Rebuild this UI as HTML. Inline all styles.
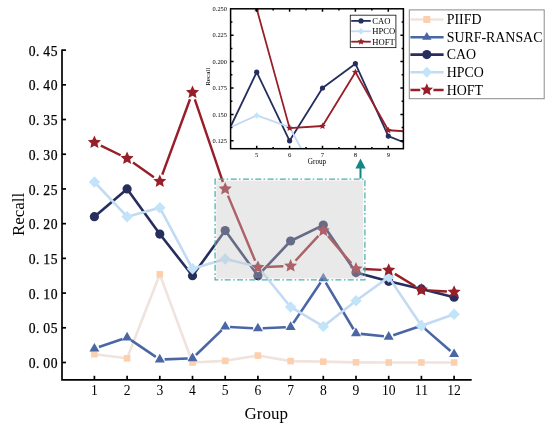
<!DOCTYPE html><html><head><meta charset="utf-8"><style>html,body{margin:0;padding:0;background:#fff;}svg{display:block}.tm{font-family:"Liberation Serif","Times New Roman",serif;}.ss{font-family:"Liberation Serif","Noto Serif CJK SC",serif;}</style></head><body>
<svg width="550" height="429" viewBox="0 0 550 429">
<rect width="550" height="429" fill="#fff"/>
<polyline fill="none" stroke="#f0e3de" stroke-width="2.6" stroke-linejoin="round" points="94.4,354.17 127.1,358.33 159.8,274.34 192.5,362.5 225.2,360.83 257.9,355.56 290.6,361.11 323.3,361.67 356,362.36 388.7,362.5 421.4,362.5 454.1,362.5" />
<g fill="#fcd0ae"><rect x="91.1" y="350.87" width="6.6" height="6.6"/><rect x="123.8" y="355.03" width="6.6" height="6.6"/><rect x="156.5" y="271.04" width="6.6" height="6.6"/><rect x="189.2" y="359.2" width="6.6" height="6.6"/><rect x="221.9" y="357.53" width="6.6" height="6.6"/><rect x="254.6" y="352.26" width="6.6" height="6.6"/><rect x="287.3" y="357.81" width="6.6" height="6.6"/><rect x="320" y="358.37" width="6.6" height="6.6"/><rect x="352.7" y="359.06" width="6.6" height="6.6"/><rect x="385.4" y="359.2" width="6.6" height="6.6"/><rect x="418.1" y="359.2" width="6.6" height="6.6"/><rect x="450.8" y="359.2" width="6.6" height="6.6"/></g>
<path fill="none" stroke="#4b66a5" stroke-width="2.6" stroke-linejoin="round" d="M98.94,347.07 L122.56,339.05 M131.08,340.19 L155.82,356.84 M164.6,359.34 L187.7,358.51 M195.95,355 L221.75,330.08 M229.99,327 L253.11,328.23 M262.7,328.28 L285.8,327.3 M293.28,323.11 L320.62,282.48 M325.76,282.62 L353.54,329.22 M360.77,333.85 L383.93,336.31 M393.24,335.27 L416.86,327.25 M425.02,328.86 L450.48,351.02"/>
<g fill="#4b66a5"><polygon points="94.4,342.88 99.4,351.48 89.4,351.48"/><polygon points="127.1,331.78 132.1,340.38 122.1,340.38"/><polygon points="159.8,353.78 164.8,362.38 154.8,362.38"/><polygon points="192.5,352.6 197.5,361.2 187.5,361.2"/><polygon points="225.2,321.02 230.2,329.62 220.2,329.62"/><polygon points="257.9,322.75 262.9,331.35 252.9,331.35"/><polygon points="290.6,321.36 295.6,329.96 285.6,329.96"/><polygon points="323.3,272.77 328.3,281.37 318.3,281.37"/><polygon points="356,327.61 361,336.21 351,336.21"/><polygon points="388.7,331.08 393.7,339.68 383.7,339.68"/><polygon points="421.4,319.97 426.4,328.57 416.4,328.57"/><polygon points="454.1,348.44 459.1,357.04 449.1,357.04"/></g>
<polyline fill="none" stroke="#262e5e" stroke-width="2.6" stroke-linejoin="round" points="94.4,216.72 127.1,188.95 159.8,234.07 192.5,275.73 225.2,230.6 257.9,275.73 290.6,241.01 323.3,225.05 356,272.6 388.7,281.28 421.4,288.91 454.1,297.25" />
<g fill="#262e5e"><circle cx="94.4" cy="216.72" r="4.6"/><circle cx="127.1" cy="188.95" r="4.6"/><circle cx="159.8" cy="234.07" r="4.6"/><circle cx="192.5" cy="275.73" r="4.6"/><circle cx="225.2" cy="230.6" r="4.6"/><circle cx="257.9" cy="275.73" r="4.6"/><circle cx="290.6" cy="241.01" r="4.6"/><circle cx="323.3" cy="225.05" r="4.6"/><circle cx="356" cy="272.6" r="4.6"/><circle cx="388.7" cy="281.28" r="4.6"/><circle cx="421.4" cy="288.91" r="4.6"/><circle cx="454.1" cy="297.25" r="4.6"/></g>
<polyline fill="none" stroke="#c3daf3" stroke-width="2.6" stroke-linejoin="round" points="94.4,182.01 127.1,216.72 159.8,207.69 192.5,268.78 225.2,259.06 257.9,266.7 290.6,306.96 323.3,326.4 356,300.72 388.7,277.11 421.4,325.71 454.1,314.25" />
<g fill="#c2e4fb"><polygon points="94.4,176.31 100.1,182.01 94.4,187.71 88.7,182.01"/><polygon points="127.1,211.02 132.8,216.72 127.1,222.42 121.4,216.72"/><polygon points="159.8,201.99 165.5,207.69 159.8,213.39 154.1,207.69"/><polygon points="192.5,263.08 198.2,268.78 192.5,274.48 186.8,268.78"/><polygon points="225.2,253.36 230.9,259.06 225.2,264.76 219.5,259.06"/><polygon points="257.9,261 263.6,266.7 257.9,272.4 252.2,266.7"/><polygon points="290.6,301.26 296.3,306.96 290.6,312.66 284.9,306.96"/><polygon points="323.3,320.7 329,326.4 323.3,332.1 317.6,326.4"/><polygon points="356,295.02 361.7,300.72 356,306.42 350.3,300.72"/><polygon points="388.7,271.41 394.4,277.11 388.7,282.81 383,277.11"/><polygon points="421.4,320.01 427.1,325.71 421.4,331.41 415.7,325.71"/><polygon points="454.1,308.55 459.8,314.25 454.1,319.95 448.4,314.25"/></g>
<path fill="none" stroke="#981f28" stroke-width="2.45" stroke-linejoin="round" d="M100.87,145.6 L120.63,155.25 M133,162.54 L153.9,177.18 M162.29,174.56 L190.01,99.21 M194.81,99.28 L222.89,182.13 M227.97,195.6 L255.13,260.75 M265.09,267.09 L283.41,266.31 M295.49,260.72 L318.41,235.89 M327.98,236.07 L351.32,263.31 M363.19,269.09 L381.51,269.87 M394.86,273.9 L415.24,286.23 M428.59,290.41 L446.91,291.58"/>
<g fill="#981f28"><polygon points="94.4,135.54 96.31,139.81 100.96,140.31 97.48,143.44 98.46,148.02 94.4,145.68 90.34,148.02 91.32,143.44 87.84,140.31 92.49,139.81"/><polygon points="127.1,151.51 129.01,155.78 133.66,156.27 130.18,159.41 131.16,163.99 127.1,161.65 123.04,163.99 124.02,159.41 120.54,156.27 125.19,155.78"/><polygon points="159.8,174.41 161.71,178.69 166.36,179.18 162.88,182.32 163.86,186.9 159.8,184.56 155.74,186.9 156.72,182.32 153.24,179.18 157.89,178.69"/><polygon points="192.5,85.56 194.41,89.83 199.06,90.32 195.58,93.46 196.56,98.04 192.5,95.7 188.44,98.04 189.42,93.46 185.94,90.32 190.59,89.83"/><polygon points="225.2,182.05 227.11,186.33 231.76,186.82 228.28,189.95 229.26,194.53 225.2,192.19 221.14,194.53 222.12,189.95 218.64,186.82 223.29,186.33"/><polygon points="257.9,260.49 259.81,264.77 264.46,265.26 260.98,268.4 261.96,272.98 257.9,270.64 253.84,272.98 254.82,268.4 251.34,265.26 255.99,264.77"/><polygon points="290.6,259.11 292.51,263.38 297.16,263.87 293.68,267.01 294.66,271.59 290.6,269.25 286.54,271.59 287.52,267.01 284.04,263.87 288.69,263.38"/><polygon points="323.3,223.7 325.21,227.98 329.86,228.47 326.38,231.6 327.36,236.18 323.3,233.84 319.24,236.18 320.22,231.6 316.74,228.47 321.39,227.98"/><polygon points="356,261.88 357.91,266.16 362.56,266.65 359.08,269.79 360.06,274.37 356,272.03 351.94,274.37 352.92,269.79 349.44,266.65 354.09,266.16"/><polygon points="388.7,263.27 390.61,267.55 395.26,268.04 391.78,271.17 392.76,275.75 388.7,273.41 384.64,275.75 385.62,271.17 382.14,268.04 386.79,267.55"/><polygon points="421.4,283.06 423.31,287.33 427.96,287.82 424.48,290.96 425.46,295.54 421.4,293.2 417.34,295.54 418.32,290.96 414.84,287.82 419.49,287.33"/><polygon points="454.1,285.14 456.01,289.42 460.66,289.91 457.18,293.04 458.16,297.62 454.1,295.28 450.04,297.62 451.02,293.04 447.54,289.91 452.19,289.42"/></g>
<rect x="216.3" y="180.5" width="147" height="98" fill="#c8c8c8" fill-opacity="0.4" stroke="none"/>
<rect x="215.1" y="179.2" width="149.8" height="100.6" fill="none" stroke="#4aafab" stroke-width="1.25" stroke-dasharray="6 2.2 1.6 2.5" stroke-dashoffset="9"/>
<line x1="360.5" y1="178.5" x2="360.5" y2="167" stroke="#168585" stroke-width="2"/>
<polygon points="360.5,158.4 365.7,168.5 355.4,168.5" fill="#168585"/>
<g stroke="#000" stroke-width="1.7" fill="none">
<path d="M62,49.4 V379.8 H471.7"/>
<path d="M62,362.5 H66"/>
<path d="M62,327.79 H66"/>
<path d="M62,293.08 H66"/>
<path d="M62,258.37 H66"/>
<path d="M62,223.66 H66"/>
<path d="M62,188.95 H66"/>
<path d="M62,154.24 H66"/>
<path d="M62,119.53 H66"/>
<path d="M62,84.82 H66"/>
<path d="M62,50.11 H66"/>
<path d="M94.4,379.8 V375.8"/>
<path d="M127.1,379.8 V375.8"/>
<path d="M159.8,379.8 V375.8"/>
<path d="M192.5,379.8 V375.8"/>
<path d="M225.2,379.8 V375.8"/>
<path d="M257.9,379.8 V375.8"/>
<path d="M290.6,379.8 V375.8"/>
<path d="M323.3,379.8 V375.8"/>
<path d="M356,379.8 V375.8"/>
<path d="M388.7,379.8 V375.8"/>
<path d="M421.4,379.8 V375.8"/>
<path d="M454.1,379.8 V375.8"/>
</g>
<g class="ss" font-size="13.6" fill="#000" stroke="#000" stroke-width="0.25">
<text x="32.15" y="368.1" text-anchor="middle">0</text>
<text x="37.65" y="368.1" text-anchor="middle">.</text>
<text x="46.75" y="368.1" text-anchor="middle">0</text>
<text x="54.05" y="368.1" text-anchor="middle">0</text>
<text x="32.15" y="333.39" text-anchor="middle">0</text>
<text x="37.65" y="333.39" text-anchor="middle">.</text>
<text x="46.75" y="333.39" text-anchor="middle">0</text>
<text x="54.05" y="333.39" text-anchor="middle">5</text>
<text x="32.15" y="298.68" text-anchor="middle">0</text>
<text x="37.65" y="298.68" text-anchor="middle">.</text>
<text x="46.75" y="298.68" text-anchor="middle">1</text>
<text x="54.05" y="298.68" text-anchor="middle">0</text>
<text x="32.15" y="263.97" text-anchor="middle">0</text>
<text x="37.65" y="263.97" text-anchor="middle">.</text>
<text x="46.75" y="263.97" text-anchor="middle">1</text>
<text x="54.05" y="263.97" text-anchor="middle">5</text>
<text x="32.15" y="229.26" text-anchor="middle">0</text>
<text x="37.65" y="229.26" text-anchor="middle">.</text>
<text x="46.75" y="229.26" text-anchor="middle">2</text>
<text x="54.05" y="229.26" text-anchor="middle">0</text>
<text x="32.15" y="194.55" text-anchor="middle">0</text>
<text x="37.65" y="194.55" text-anchor="middle">.</text>
<text x="46.75" y="194.55" text-anchor="middle">2</text>
<text x="54.05" y="194.55" text-anchor="middle">5</text>
<text x="32.15" y="159.84" text-anchor="middle">0</text>
<text x="37.65" y="159.84" text-anchor="middle">.</text>
<text x="46.75" y="159.84" text-anchor="middle">3</text>
<text x="54.05" y="159.84" text-anchor="middle">0</text>
<text x="32.15" y="125.13" text-anchor="middle">0</text>
<text x="37.65" y="125.13" text-anchor="middle">.</text>
<text x="46.75" y="125.13" text-anchor="middle">3</text>
<text x="54.05" y="125.13" text-anchor="middle">5</text>
<text x="32.15" y="90.42" text-anchor="middle">0</text>
<text x="37.65" y="90.42" text-anchor="middle">.</text>
<text x="46.75" y="90.42" text-anchor="middle">4</text>
<text x="54.05" y="90.42" text-anchor="middle">0</text>
<text x="32.15" y="55.71" text-anchor="middle">0</text>
<text x="37.65" y="55.71" text-anchor="middle">.</text>
<text x="46.75" y="55.71" text-anchor="middle">4</text>
<text x="54.05" y="55.71" text-anchor="middle">5</text>
</g>
<g class="tm" font-size="13.6" fill="#000" text-anchor="middle">
<text x="94.4" y="395.4">1</text>
<text x="127.1" y="395.4">2</text>
<text x="159.8" y="395.4">3</text>
<text x="192.5" y="395.4">4</text>
<text x="225.2" y="395.4">5</text>
<text x="257.9" y="395.4">6</text>
<text x="290.6" y="395.4">7</text>
<text x="323.3" y="395.4">8</text>
<text x="356" y="395.4">9</text>
<text x="388.7" y="395.4">10</text>
<text x="421.4" y="395.4">11</text>
<text x="454.1" y="395.4">12</text>
</g>
<text class="tm" x="266.2" y="418.6" font-size="17" text-anchor="middle">Group</text>
<text class="tm" transform="translate(23.5,214.4) rotate(-90)" font-size="17" text-anchor="middle">Recall</text>
<rect x="409.3" y="9.9" width="134.9" height="88.8" fill="#fff" stroke="#8a8a8a" stroke-width="1"/>
<polyline fill="none" stroke="#f0e3de" stroke-width="2.6" stroke-linejoin="round" points="410.4,19.5 443.6,19.5" />
<g fill="#fcd0ae"><rect x="423.3" y="16" width="7" height="7"/></g>
<polyline fill="none" stroke="#4b66a5" stroke-width="2.6" stroke-linejoin="round" points="410.4,37.2 443.6,37.2" />
<g fill="#4b66a5"><polygon points="426.8,31.93 431.5,39.83 422.1,39.83"/></g>
<polyline fill="none" stroke="#262e5e" stroke-width="2.6" stroke-linejoin="round" points="410.4,54.6 443.6,54.6" />
<g fill="#262e5e"><circle cx="426.8" cy="54.6" r="4.6"/></g>
<polyline fill="none" stroke="#c3daf3" stroke-width="2.6" stroke-linejoin="round" points="410.4,72.2 443.6,72.2" />
<g fill="#c2e4fb"><polygon points="426.8,66.6 432,72.2 426.8,77.8 421.6,72.2"/></g>
<path fill="none" stroke="#981f28" stroke-width="2.45" d="M410.4,89.9 H420.2 M433.4,89.9 H443.6"/>
<g fill="#981f28"><polygon points="426.8,83.3 428.62,87.39 433.08,87.86 429.75,90.86 430.68,95.24 426.8,93 422.92,95.24 423.85,90.86 420.52,87.86 424.98,87.39"/></g>
<g class="tm" font-size="13.9" fill="#000">
<text x="446.7" y="24.1">PIIFD</text>
<text x="446.7" y="41.8">SURF-RANSAC</text>
<text x="446.7" y="59.2">CAO</text>
<text x="446.7" y="76.8">HPCO</text>
<text x="446.7" y="94.5">HOFT</text>
</g>
<rect x="230.6" y="8.8" width="172.8" height="139.9" fill="#fff"/>
<defs><clipPath id="ic"><rect x="230.6" y="8.8" width="172.8" height="139.9"/></clipPath></defs>
<g clip-path="url(#ic)">
<polyline fill="none" stroke="#262e5e" stroke-width="1.8" stroke-linejoin="round" points="125.1,51.04 158,8.8 190.9,77.44 223.8,140.8 256.7,72.16 289.6,140.8 322.5,88 355.4,63.71 388.3,136.05 421.2,149.25 454.1,160.86 487,173.54" />
<g fill="#262e5e"><circle cx="125.1" cy="51.04" r="2.6"/><circle cx="158" cy="8.8" r="2.6"/><circle cx="190.9" cy="77.44" r="2.6"/><circle cx="223.8" cy="140.8" r="2.6"/><circle cx="256.7" cy="72.16" r="2.6"/><circle cx="289.6" cy="140.8" r="2.6"/><circle cx="322.5" cy="88" r="2.6"/><circle cx="355.4" cy="63.71" r="2.6"/><circle cx="388.3" cy="136.05" r="2.6"/><circle cx="421.2" cy="149.25" r="2.6"/><circle cx="454.1" cy="160.86" r="2.6"/><circle cx="487" cy="173.54" r="2.6"/></g>
<polyline fill="none" stroke="#c3daf3" stroke-width="1.8" stroke-linejoin="round" points="125.1,-1.76 158,51.04 190.9,37.31 223.8,130.24 256.7,115.46 289.6,127.07 322.5,188.32 355.4,217.89 388.3,178.82 421.2,142.91 454.1,216.83 487,199.41" />
<g fill="#c2e4fb"><polygon points="125.1,-5 128.1,-1.76 125.1,1.48 122.1,-1.76"/><polygon points="158,47.8 161,51.04 158,54.28 155,51.04"/><polygon points="190.9,34.07 193.9,37.31 190.9,40.55 187.9,37.31"/><polygon points="223.8,127 226.8,130.24 223.8,133.48 220.8,130.24"/><polygon points="256.7,112.22 259.7,115.46 256.7,118.7 253.7,115.46"/><polygon points="289.6,123.83 292.6,127.07 289.6,130.31 286.6,127.07"/><polygon points="322.5,185.08 325.5,188.32 322.5,191.56 319.5,188.32"/><polygon points="355.4,214.65 358.4,217.89 355.4,221.13 352.4,217.89"/><polygon points="388.3,175.58 391.3,178.82 388.3,182.06 385.3,178.82"/><polygon points="421.2,139.67 424.2,142.91 421.2,146.15 418.2,142.91"/><polygon points="454.1,213.59 457.1,216.83 454.1,220.07 451.1,216.83"/><polygon points="487,196.17 490,199.41 487,202.65 484,199.41"/></g>
<polyline fill="none" stroke="#981f28" stroke-width="1.8" stroke-linejoin="round" points="125.1,-61.95 158,-37.66 190.9,-2.82 223.8,-137.98 256.7,8.8 289.6,128.13 322.5,126.02 355.4,72.16 388.3,130.24 421.2,132.35 454.1,162.45 487,165.62" />
<g fill="#981f28"><polygon points="125.1,-65.55 126.09,-63.32 128.52,-63.06 126.71,-61.43 127.22,-59.04 125.1,-60.26 122.98,-59.04 123.49,-61.43 121.68,-63.06 124.11,-63.32"/><polygon points="158,-41.26 158.99,-39.03 161.42,-38.78 159.61,-37.14 160.12,-34.75 158,-35.97 155.88,-34.75 156.39,-37.14 154.58,-38.78 157.01,-39.03"/><polygon points="190.9,-6.42 191.89,-4.18 194.32,-3.93 192.51,-2.29 193.02,0.1 190.9,-1.12 188.78,0.1 189.29,-2.29 187.48,-3.93 189.91,-4.18"/><polygon points="223.8,-141.58 224.79,-139.35 227.22,-139.1 225.41,-137.46 225.92,-135.07 223.8,-136.29 221.68,-135.07 222.19,-137.46 220.38,-139.1 222.81,-139.35"/><polygon points="256.7,5.2 257.69,7.43 260.12,7.69 258.31,9.32 258.82,11.71 256.7,10.49 254.58,11.71 255.09,9.32 253.28,7.69 255.71,7.43"/><polygon points="289.6,124.53 290.59,126.76 293.02,127.02 291.21,128.65 291.72,131.04 289.6,129.82 287.48,131.04 287.99,128.65 286.18,127.02 288.61,126.76"/><polygon points="322.5,122.42 323.49,124.65 325.92,124.9 324.11,126.54 324.62,128.93 322.5,127.71 320.38,128.93 320.89,126.54 319.08,124.9 321.51,124.65"/><polygon points="355.4,68.56 356.39,70.79 358.82,71.05 357.01,72.68 357.52,75.07 355.4,73.85 353.28,75.07 353.79,72.68 351.98,71.05 354.41,70.79"/><polygon points="388.3,126.64 389.29,128.87 391.72,129.13 389.91,130.76 390.42,133.15 388.3,131.93 386.18,133.15 386.69,130.76 384.88,129.13 387.31,128.87"/><polygon points="421.2,128.75 422.19,130.98 424.62,131.24 422.81,132.87 423.32,135.26 421.2,134.04 419.08,135.26 419.59,132.87 417.78,131.24 420.21,130.98"/><polygon points="454.1,158.85 455.09,161.08 457.52,161.34 455.71,162.97 456.22,165.36 454.1,164.14 451.98,165.36 452.49,162.97 450.68,161.34 453.11,161.08"/><polygon points="487,162.02 487.99,164.25 490.42,164.5 488.61,166.14 489.12,168.53 487,167.31 484.88,168.53 485.39,166.14 483.58,164.5 486.01,164.25"/></g>
</g>
<g stroke="#000" stroke-width="1.5" fill="none">
<rect x="230.6" y="8.8" width="172.8" height="139.9"/>
<path d="M230.6,140.8 h3 M403.4,140.8 h-3"/>
<path d="M230.6,127.6 h1.8 M403.4,127.6 h-1.8"/>
<path d="M230.6,114.4 h3 M403.4,114.4 h-3"/>
<path d="M230.6,101.2 h1.8 M403.4,101.2 h-1.8"/>
<path d="M230.6,88 h3 M403.4,88 h-3"/>
<path d="M230.6,74.8 h1.8 M403.4,74.8 h-1.8"/>
<path d="M230.6,61.6 h3 M403.4,61.6 h-3"/>
<path d="M230.6,48.4 h1.8 M403.4,48.4 h-1.8"/>
<path d="M230.6,35.2 h3 M403.4,35.2 h-3"/>
<path d="M230.6,22 h1.8 M403.4,22 h-1.8"/>
<path d="M256.7,148.7 v-3 M256.7,8.8 v3"/>
<path d="M273.15,148.7 v-1.8 M273.15,8.8 v1.8"/>
<path d="M289.6,148.7 v-3 M289.6,8.8 v3"/>
<path d="M306.05,148.7 v-1.8 M306.05,8.8 v1.8"/>
<path d="M322.5,148.7 v-3 M322.5,8.8 v3"/>
<path d="M338.95,148.7 v-1.8 M338.95,8.8 v1.8"/>
<path d="M355.4,148.7 v-3 M355.4,8.8 v3"/>
<path d="M371.85,148.7 v-1.8 M371.85,8.8 v1.8"/>
<path d="M388.3,148.7 v-3 M388.3,8.8 v3"/>
</g>
<g class="tm" font-size="6.7" fill="#000">
<text x="227" y="143" text-anchor="end" font-size="6.4">0.125</text>
<text x="227" y="116.6" text-anchor="end" font-size="6.4">0.150</text>
<text x="227" y="90.2" text-anchor="end" font-size="6.4">0.175</text>
<text x="227" y="63.8" text-anchor="end" font-size="6.4">0.200</text>
<text x="227" y="37.4" text-anchor="end" font-size="6.4">0.225</text>
<text x="227" y="11" text-anchor="end" font-size="6.4">0.250</text>
<text x="256.7" y="157.3" text-anchor="middle" font-size="6.7">5</text>
<text x="289.6" y="157.3" text-anchor="middle" font-size="6.7">6</text>
<text x="322.5" y="157.3" text-anchor="middle" font-size="6.7">7</text>
<text x="355.4" y="157.3" text-anchor="middle" font-size="6.7">8</text>
<text x="388.3" y="157.3" text-anchor="middle" font-size="6.7">9</text>
<text x="317" y="163.5" text-anchor="middle" font-size="7.2">Group</text>
<text transform="translate(210.4,76.8) rotate(-90)" text-anchor="middle" font-size="7.1">Recall</text>
</g>
<rect x="350.3" y="15.2" width="45.6" height="32.4" fill="#fff" stroke="#222" stroke-width="0.9"/>
<polyline fill="none" stroke="#262e5e" stroke-width="1.8" stroke-linejoin="round" points="351.2,20.9 370.8,20.9" />
<g fill="#262e5e"><circle cx="361" cy="20.9" r="2.6"/></g>
<polyline fill="none" stroke="#c3daf3" stroke-width="1.8" stroke-linejoin="round" points="351.2,31.3 370.8,31.3" />
<g fill="#c2e4fb"><polygon points="361,28.06 364,31.3 361,34.54 358,31.3"/></g>
<polyline fill="none" stroke="#981f28" stroke-width="1.8" stroke-linejoin="round" points="351.2,41.7 370.8,41.7" />
<g fill="#981f28"><polygon points="361,38.1 361.99,40.33 364.42,40.59 362.61,42.22 363.12,44.61 361,43.39 358.88,44.61 359.39,42.22 357.58,40.59 360.01,40.33"/></g>
<g class="tm" font-size="8.6" fill="#000">
<text x="372.3" y="23.8">CAO</text>
<text x="372.3" y="34.2">HPCO</text>
<text x="372.3" y="44.6">HOFT</text>
</g>
</svg></body></html>
